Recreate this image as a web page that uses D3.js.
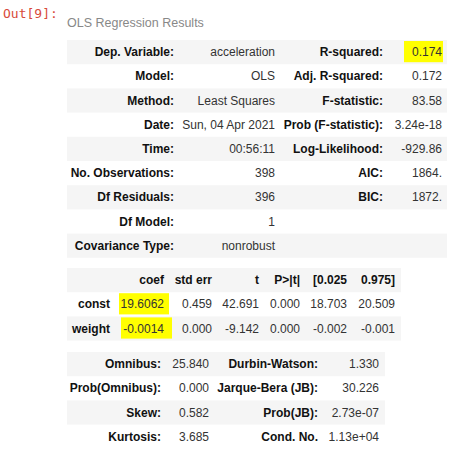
<!DOCTYPE html>
<html><head><meta charset="utf-8">
<script src="https://cdn.jsdelivr.net/npm/d3@7"></script>
<style>body{margin:0;background:#fff}text{font-family:"Liberation Sans",Arial,sans-serif;font-size:12px;fill:#222}</style>
</head><body><div id="chart"></div>
<script>
// top table: label/value pairs in two column groups
const topLeftLabels = ['Dep. Variable:','Model:','Method:','Date:','Time:','No. Observations:','Df Residuals:','Df Model:','Covariance Type:'];
const topLeftValues = ['acceleration','OLS','Least Squares','Sun, 04 Apr 2021','00:56:11','398','396','1','nonrobust'];
const topRightLabels = ['R-squared:','Adj. R-squared:','F-statistic:','Prob (F-statistic):','Log-Likelihood:','AIC:','BIC:','',''];
const topRightValues = ['0.174','0.172','83.58','3.24e-18','-929.86','1864.','1872.','',''];

const coefHeader = ['coef','std err','t','P>|t|','[0.025','0.975]'];
const coefRows = ['const','weight'];
const coefValues = [
  ['19.6062','0.459','42.691','0.000','18.703','20.509'],
  ['-0.0014','0.000','-9.142','0.000','-0.002','-0.001']
];

const diagLeftLabels = ['Omnibus:','Prob(Omnibus):','Skew:','Kurtosis:'];
const diagLeftValues = ['25.840','0.000','0.582','3.685'];
const diagRightLabels = ['Durbin-Watson:','Jarque-Bera (JB):','Prob(JB):','Cond. No.'];
const diagRightValues = ['1.330','30.226','2.73e-07','1.13e+04'];

const W = 474, H = 468;
const svg = d3.select('#chart').append('svg').attr('width', W).attr('height', H);

svg.append('text').attr('x', 3).attr('y', 18)
  .style('font-family', '"DejaVu Sans Mono",monospace').style('font-size', '13px').style('fill', '#d84a3a')
  .text('Out[9]:');
svg.append('text').attr('x', 67).attr('y', 27).style('font-size', '12.5px').style('fill', '#888')
  .text('OLS Regression Results');

// generic table: columns = [{vals, right, bold}], highlight = set of "r,c"
function table(y0, x0, x1, nRows, cols, shadeFrom, highlight) {
  const y = d3.scaleBand().domain(d3.range(nRows)).range([y0, y0 + nRows * 24.2]);
  const g = svg.append('g');
  g.selectAll('rect.row').data(d3.range(nRows).filter(i => i % 2 === shadeFrom))
    .enter().append('rect').attr('x', x0).attr('width', x1 - x0)
    .attr('y', i => y(i)).attr('height', y.bandwidth()).attr('fill', '#f5f5f5');
  (highlight || []).forEach(h => {
    g.append('rect').attr('x', h.x0).attr('width', h.x1 - h.x0)
      .attr('y', y(h.row) + 1).attr('height', y.bandwidth() - 3).attr('fill', '#ffff00');
  });
  cols.forEach(c => {
    g.selectAll(null).data(c.vals).enter().append('text')
      .attr('x', c.right).attr('y', (d, i) => y(i) + y.bandwidth() / 2 + 4)
      .attr('text-anchor', 'end')
      .style('font-weight', c.bold ? 'bold' : 'normal')
      .style('fill', c.bold ? '#111' : '#333')
      .text(d => d);
  });
}

table(40, 67, 447, topLeftLabels.length, [
  {vals: topLeftLabels, right: 174, bold: true},
  {vals: topLeftValues, right: 275},
  {vals: topRightLabels, right: 383, bold: true},
  {vals: topRightValues, right: 442}
], 0, [{row: 0, x0: 404, x1: 443}]);

const coefRights = [164, 212, 259, 300, 347, 395];
const coefCols = coefRights.map((r, j) => ({
  vals: [coefHeader[j]].concat(coefValues.map(v => v[j])), right: r, bold: false
}));
coefCols[0].vals = coefCols[0].vals.map((v, i) => v);
table(268, 67, 401, 3, [{vals: [''].concat(coefRows), right: 110, bold: true}].concat(coefCols), 0,
  [{row: 1, x0: 119, x1: 169}, {row: 2, x0: 121, x1: 172}]);
// header row bold
svg.selectAll('g').filter((d, i) => i === 1).selectAll('text')
  .filter(function () { return coefHeader.includes(this.textContent); })
  .style('font-weight', 'bold').style('fill', '#111');

table(352, 67, 385, 4, [
  {vals: diagLeftLabels, right: 161, bold: true},
  {vals: diagLeftValues, right: 209},
  {vals: diagRightLabels, right: 318, bold: true},
  {vals: diagRightValues, right: 379}
], 0);
</script></body></html>
